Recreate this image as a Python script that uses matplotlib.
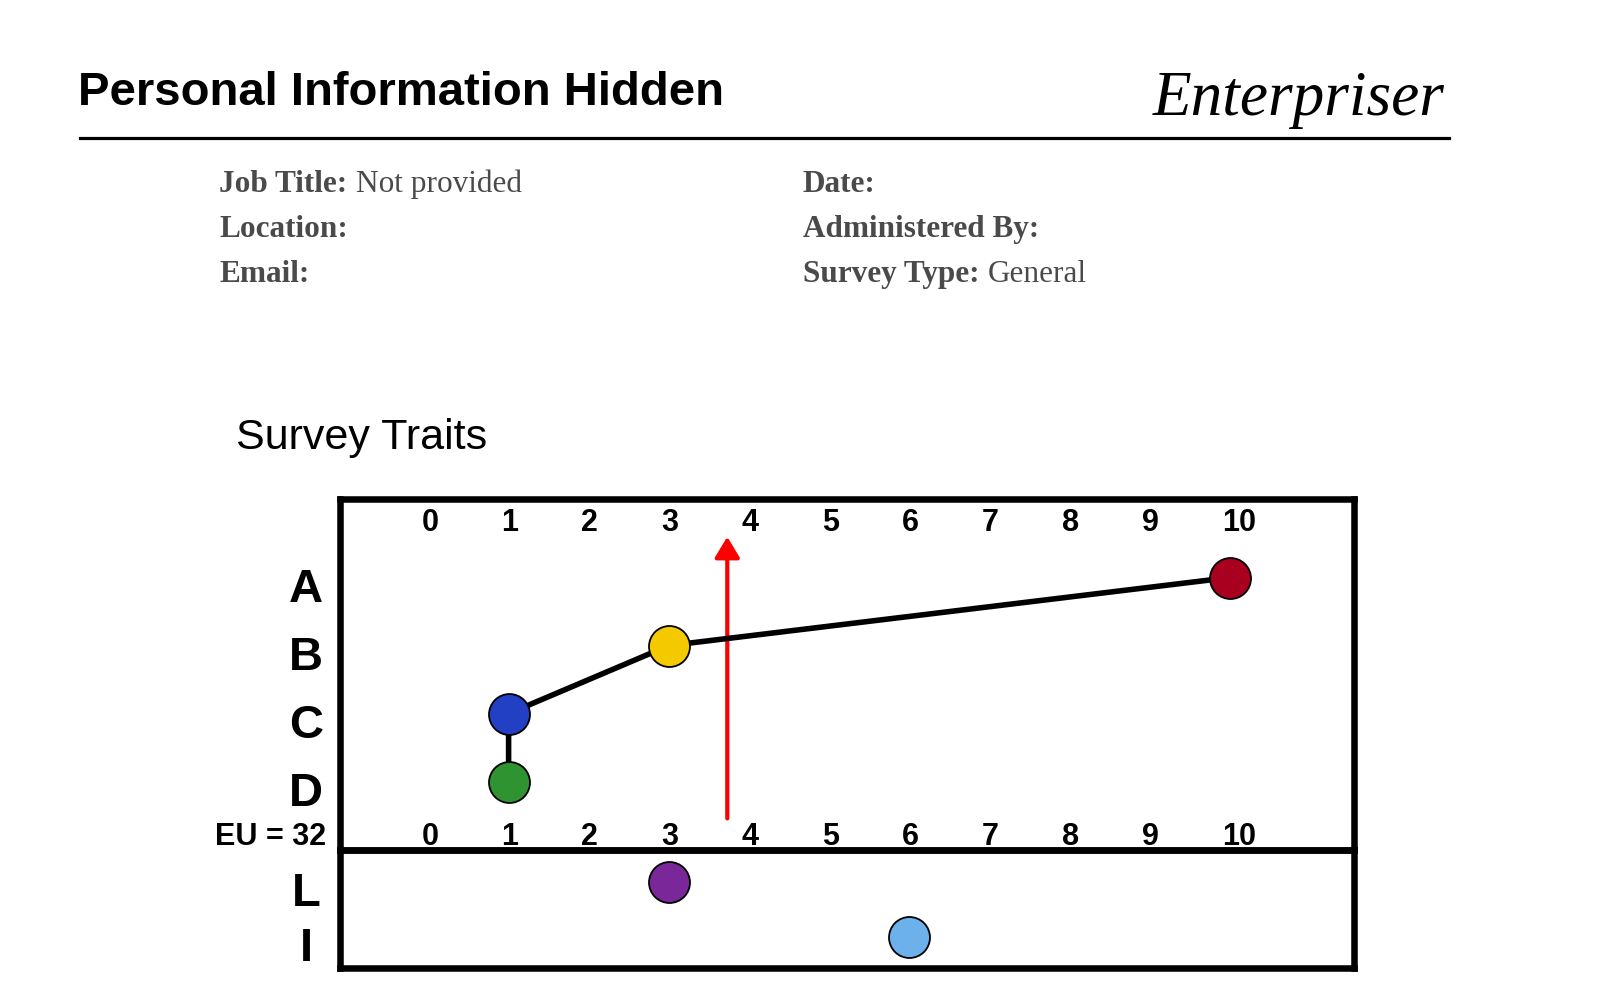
import matplotlib
matplotlib.use("Agg")
import matplotlib.pyplot as plt

# ---------------- data ----------------
header_title = "Personal Information Hidden"
brand = "Enterpriser"
info_left = [("Job Title:", "Not provided"), ("Location:", ""), ("Email:", "")]
info_right = [("Date:", ""), ("Administered By:", ""), ("Survey Type:", "General")]
section_title = "Survey Traits"

top_categories = ["A", "B", "C", "D"]
top_values = [10, 3, 1, 1]
top_colors = ["#A8001E", "#F5C900", "#2140C4", "#2E9330"]

bottom_categories = ["L", "I"]
bottom_values = [3, 6]
bottom_colors = ["#7A2899", "#6CB0EC"]

tick_values = list(range(0, 11))
tick_labels = [str(v) for v in tick_values]
eu_label = "EU = 32"
arrow_value = 3.73

# ---------------- figure ----------------
W, H, DPI = 1600, 1003, 100
fig = plt.figure(figsize=(W / DPI, H / DPI), dpi=DPI)
fig.patch.set_facecolor("white")

def fx(px):
    return px / W

def fy(py):
    return 1 - py / H

SANS = ["Liberation Sans", "DejaVu Sans"]
SERIF = ["Liberation Serif", "DejaVu Serif"]

# header
fig.text(fx(77.6), fy(105), header_title, fontsize=34, fontweight="bold",
         family=SANS, ha="left", va="baseline")
fig.text(fx(1445), fy(115), brand, fontsize=45.5, style="italic",
         family=SERIF, ha="right", va="baseline")
fig.add_artist(plt.Line2D([fx(79.6), fx(1449)], [fy(138.8), fy(138.8)],
                          color="black", lw=2.3))

# info block
gray = "#4a4a4a"
renderer = fig.canvas.get_renderer()
baselines = [191.8, 236.7, 281.6]
for col_x, items in ((219.4, info_left), (803, info_right)):
    for (lab, val), by in zip(items, baselines):
        t = fig.text(fx(col_x), fy(by), lab, fontsize=22.5, fontweight="bold",
                     family=SERIF, color=gray, ha="left", va="baseline")
        if val:
            x1 = t.get_window_extent(renderer).x1
            fig.text(fx(x1 + 8), fy(by), val, fontsize=22.5, family=SERIF,
                     color=gray, ha="left", va="baseline")

fig.text(fx(235.7), fy(449), section_title, fontsize=31, family=SANS,
         ha="left", va="baseline")

# ---------------- chart axes ----------------
left_px, right_px = 339.8, 1354
top_px, mid_px, bot_px = 500, 851, 969.4
x0_px, unit_px = 428.5, 80.1

ax = fig.add_axes([fx(left_px), fy(mid_px), (right_px - left_px) / W, (mid_px - top_px) / H])
ax2 = fig.add_axes([fx(left_px), fy(bot_px), (right_px - left_px) / W, (bot_px - mid_px) / H])

xlim = ((left_px - x0_px) / unit_px, (right_px - x0_px) / unit_px)
rowA_px, row_sp = 578.6, 68.0
rowL_px, row_sp2 = 882.7, 55.1

for a in (ax, ax2):
    a.set_xlim(*xlim)
    a.set_xticks([])
    a.set_yticks([])
    for s in a.spines.values():
        s.set_linewidth(4.7)
        s.set_color("black")
    a.set_facecolor("none")

ax.set_ylim((mid_px - rowA_px) / row_sp, (top_px - rowA_px) / row_sp)
ax2.set_ylim((bot_px - rowL_px) / row_sp2, (mid_px - rowL_px) / row_sp2)

top_rows = list(range(len(top_categories)))
bottom_rows = list(range(len(bottom_categories)))

# connecting line
ax.plot(top_values, top_rows, color="black", lw=4.0, zorder=2,
        solid_capstyle="butt")
for v, r, c in zip(top_values, top_rows, top_colors):
    ax.plot([v], [r], marker="o", markersize=29.5, markerfacecolor=c,
            markeredgecolor="black", markeredgewidth=1.3, zorder=3, clip_on=False)
for v, r, c in zip(bottom_values, bottom_rows, bottom_colors):
    ax2.plot([v], [r], marker="o", markersize=29.5, markerfacecolor=c,
             markeredgecolor="black", markeredgewidth=1.3, zorder=3, clip_on=False)

# row labels
lab_x = (306 - left_px) / (right_px - left_px)
for a, cats, rows in ((ax, top_categories, top_rows), (ax2, bottom_categories, bottom_rows)):
    for cat, r in zip(cats, rows):
        a.annotate(cat, xy=(lab_x, r), xycoords=("axes fraction", "data"),
                   xytext=(0, -23 * 0.72), textcoords="offset points",
                   ha="center", va="baseline", fontsize=34, fontweight="bold",
                   family=SANS, annotation_clip=False)

# scale numbers (top and bottom rows)
top_num_y = (531.3 - rowA_px) / row_sp
bot_num_y = (845.0 - rowA_px) / row_sp
for yv in (top_num_y, bot_num_y):
    for v, lab in zip(tick_values, tick_labels):
        ax.annotate(lab, xy=(v, yv), xycoords="data",
                    xytext=(-5.2, 0), textcoords="offset points",
                    ha="left", va="baseline", fontsize=22, fontweight="bold",
                    family=SANS, annotation_clip=False)

eu_x = (326.5 - left_px) / (right_px - left_px)
ax.text(eu_x, bot_num_y, eu_label, transform=ax.get_yaxis_transform(),
        ha="right", va="baseline", fontsize=22, fontweight="bold", family=SANS)

# red arrow
arrow_bottom = (819.4 - rowA_px) / row_sp
arrow_top = (537.8 - rowA_px) / row_sp
ax.annotate("", xy=(arrow_value, arrow_top), xytext=(arrow_value, arrow_bottom),
            xycoords="data", textcoords="data",
            arrowprops=dict(arrowstyle="-|>,head_length=1.26,head_width=0.76",
                            mutation_scale=10, color="#FF0000", lw=3.0,
                            shrinkA=0, shrinkB=0), zorder=1)

fig.savefig("out.png", dpi=DPI, facecolor="white")
